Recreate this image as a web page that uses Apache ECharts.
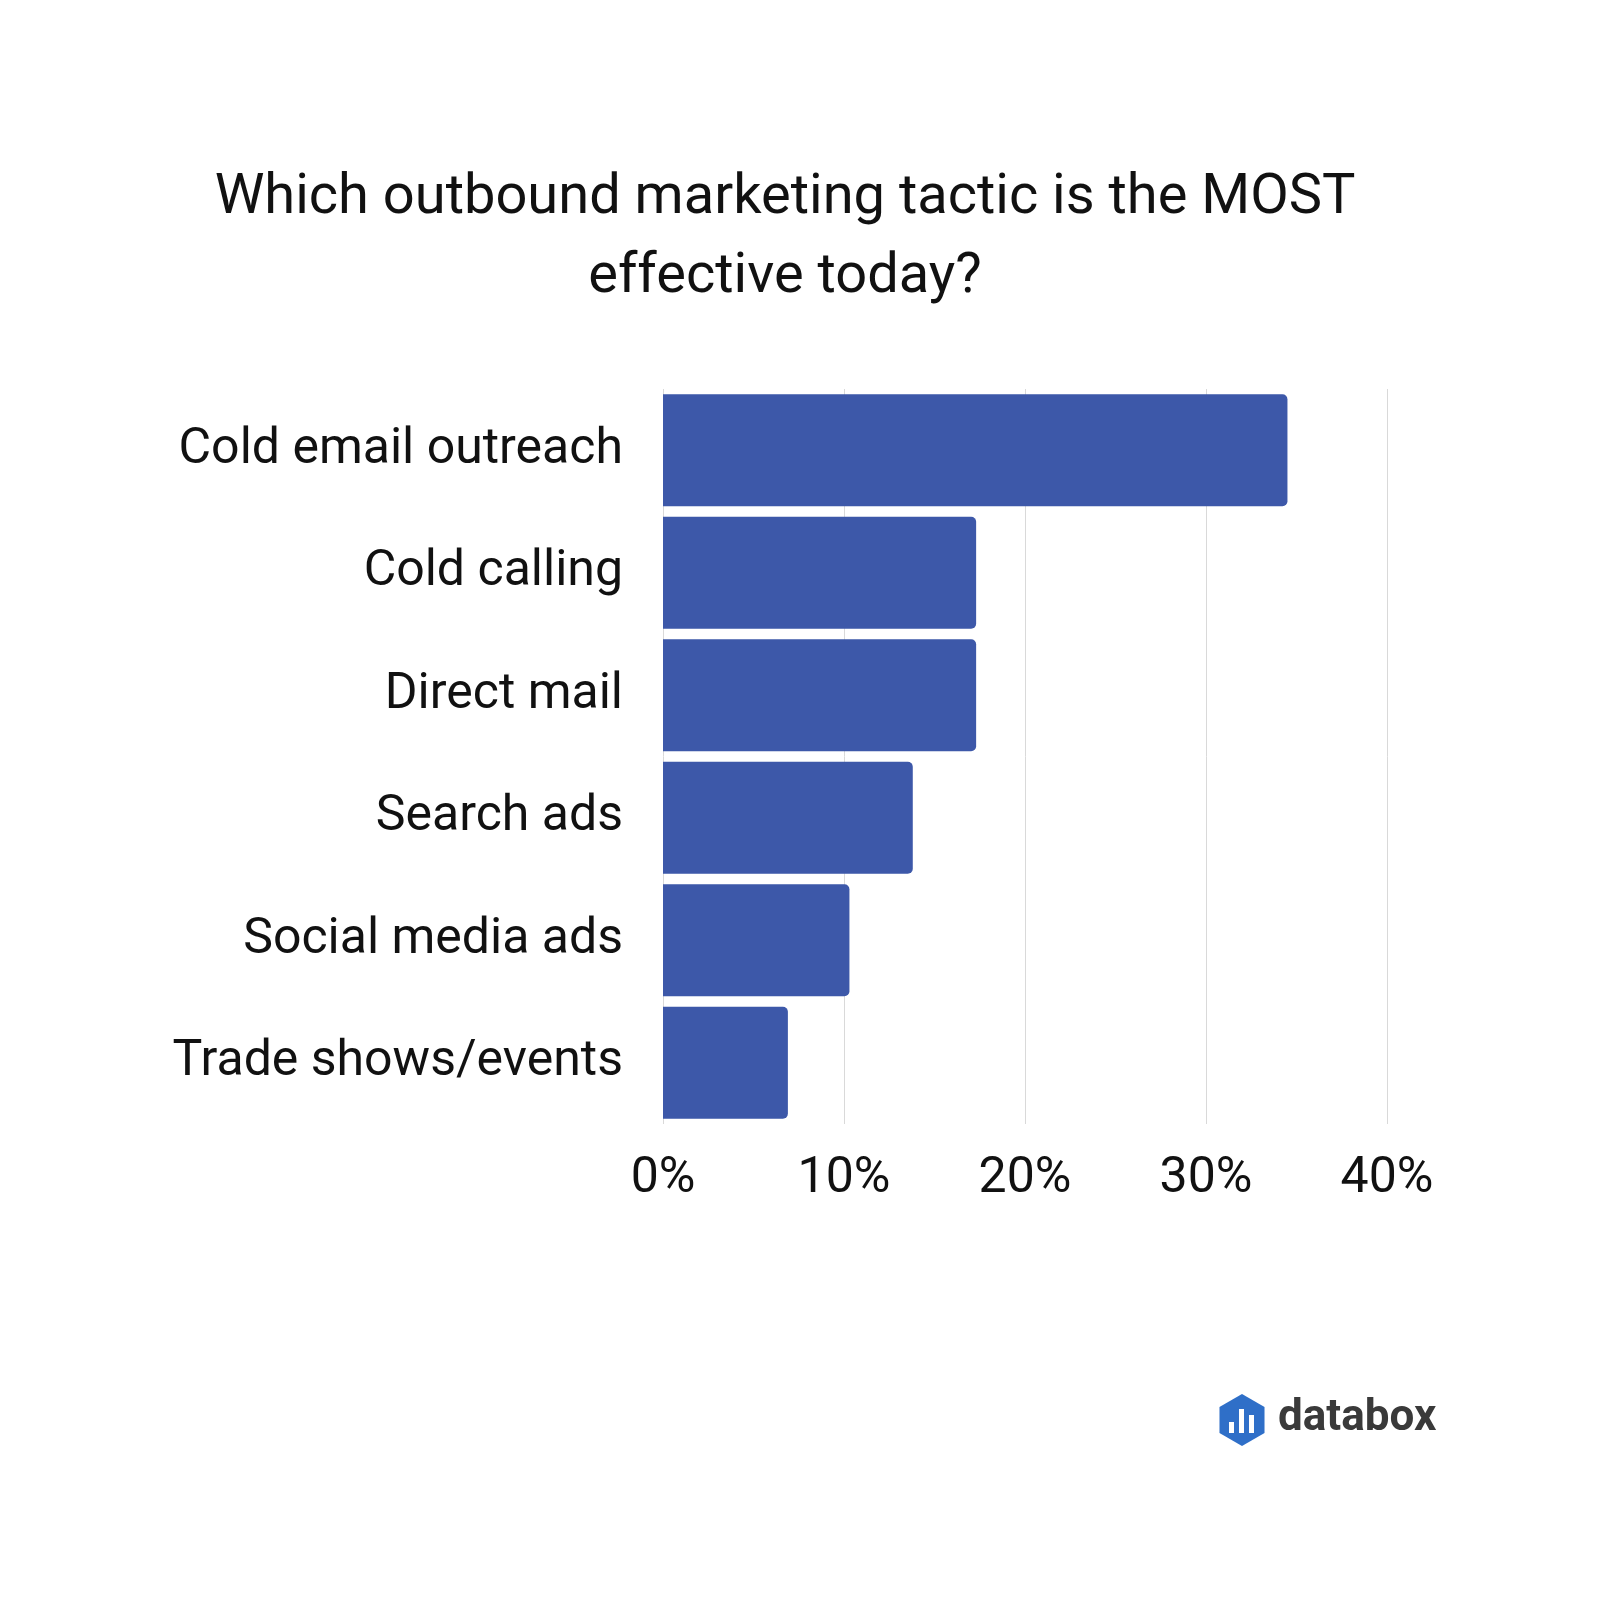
<!DOCTYPE html>
<html><head><meta charset="utf-8">
<script src="https://cdn.jsdelivr.net/npm/echarts@6/dist/echarts.min.js"></script>
<style>html,body{margin:0;background:#fff}#c{width:1600px;height:1600px}</style>
</head><body><div id="c"></div>
<script>
const categories = ["Cold email outreach","Cold calling","Direct mail","Search ads","Social media ads","Trade shows/events"];
const values = [34.5, 17.3, 17.3, 13.8, 10.3, 6.9];
const ticks = [0,10,20,30,40];
const chart = echarts.init(document.getElementById('c'));
const cx=1242, cy=1420, r=26;
const hex=[];for(let i=0;i<6;i++){const a=Math.PI/6+i*Math.PI/3;hex.push([cx+r*Math.cos(a),cy+r*Math.sin(a)]);}
chart.setOption({
  backgroundColor:'#fff',
  title:{text:'Which outbound marketing tactic is the MOST\neffective today?',left:780,textAlign:'center',top:154,
    textStyle:{fontFamily:'Roboto',fontWeight:'normal',fontSize:56,lineHeight:79,color:'#111'}},
  grid:{left:663,right:213,top:389,bottom:476},
  xAxis:{type:'value',min:0,max:40,interval:10,
    axisLabel:{formatter:'{value}%',fontFamily:'Roboto',fontSize:50,color:'#111',margin:30},
    axisLine:{show:false},axisTick:{show:false},
    splitLine:{lineStyle:{color:'#d9d9d9',width:1}}},
  yAxis:{type:'category',inverse:true,data:categories,
    axisLabel:{fontFamily:'Roboto',fontSize:50,color:'#111',margin:40},
    axisLine:{show:false},axisTick:{show:false}},
  series:[{type:'bar',data:values,barWidth:112,
    itemStyle:{color:'#3d58a9',borderRadius:[0,5,5,0]}}],
  graphic:[
    {type:'polygon',shape:{points:hex},style:{fill:'#2f6fc8'}},
    {type:'rect',shape:{x:cx-13,y:cy+2,width:5,height:11},style:{fill:'#fff'}},
    {type:'rect',shape:{x:cx-3,y:cy-11,width:5,height:24},style:{fill:'#fff'}},
    {type:'rect',shape:{x:cx+7,y:cy-5,width:5,height:18},style:{fill:'#fff'}},
    {type:'text',left:1278,top:1397,style:{text:'databox',font:'bold 44px Roboto',fill:'#3a3a3a'}}
  ]
});
</script></body></html>
